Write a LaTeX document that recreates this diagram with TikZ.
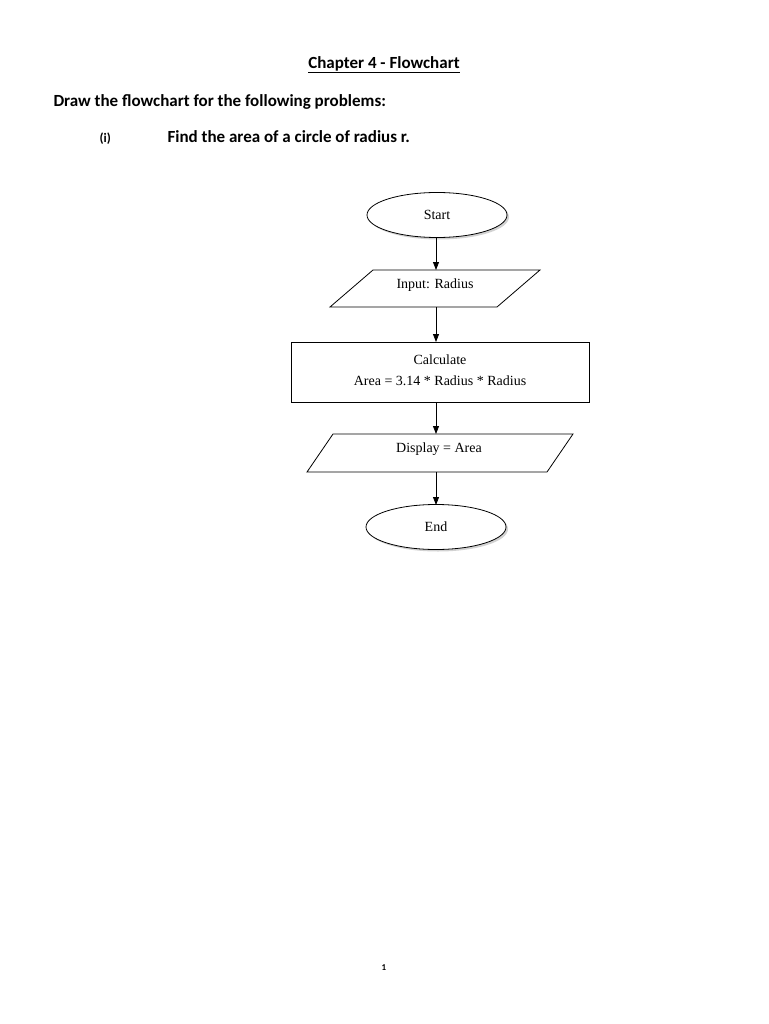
\documentclass[tikz,border=0pt]{standalone}
\usepackage{fontspec}
\setmainfont{Carlito}
\newfontfamily\tms{Liberation Serif}
\usetikzlibrary{shapes.geometric,arrows.meta,shadows}
\begin{document}
\begin{tikzpicture}[x=1pt,y=-1pt,
  term/.style={ellipse,draw,thick,minimum width=140pt,minimum height=45pt,fill=white,
     drop shadow={shadow xshift=2pt,shadow yshift=-2pt,fill=gray!70},font=\tms\fontsize{14}{16}\selectfont},
  lbl/.style={font=\tms\fontsize{14}{17}\selectfont},
  arr/.style={-{Triangle[length=8pt,width=6pt]},thick}]
\useasboundingbox[fill=white] (0,0) rectangle (768,1024);
\node[font=\bfseries\fontsize{17}{20}\selectfont] (title) at (384,65) {\underline{Chapter 4 - Flowchart}};
\node[anchor=west,font=\bfseries\fontsize{17}{20}\selectfont] (q) at (50,102) {Draw the flowchart for the following problems:};
\node[anchor=west,font=\bfseries\fontsize{13}{16}\selectfont] (i) at (96,139) {(i)};
\node[anchor=west,font=\bfseries\fontsize{17}{20}\selectfont] (p) at (164,137) {Find the area of a circle of radius r.};
\node[term] (start) at (437,215) {Start};
\draw[thick] (373,270) -- (540,270) -- (497,307) -- (330,307) -- cycle;
\node[lbl] (inp) at (435,285) {Input: Radius};
\node[draw,thick,minimum width=298pt,minimum height=60pt] (calc) at (440,372) {};
\node[lbl,align=center] (calct) at (440,370) {Calculate\\[4pt]Area = 3.14 * Radius * Radius};
\draw[thick] (333,434) -- (573,434) -- (547,472) -- (307,472) -- cycle;
\node[lbl] (disp) at (439,449) {Display = Area};
\node[term] (end) at (436,527) {End};
\coordinate (a1) at (436,238); \coordinate (a2) at (436,270);
\coordinate (b1) at (436,307); \coordinate (b2) at (436,342);
\coordinate (c1) at (436,402); \coordinate (c2) at (436,434);
\coordinate (d1) at (436,472); \coordinate (d2) at (436,505);
\draw[arr] (a1) -- (a2); \draw[arr] (b1) -- (b2);
\draw[arr] (c1) -- (c2); \draw[arr] (d1) -- (d2);
\node[font=\bfseries\fontsize{9}{10}\selectfont] (pg) at (384,968) {1};
\end{tikzpicture}
\end{document}
